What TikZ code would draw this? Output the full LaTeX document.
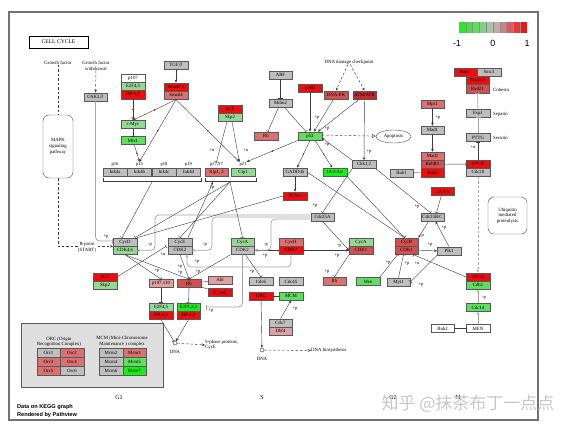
\documentclass[tikz,border=0pt]{standalone}
\usepackage{fontspec}
\setmainfont{Liberation Serif}
\newfontfamily\lsans{Liberation Sans}
\newfontfamily\cjk{Noto Sans CJK SC}
\usetikzlibrary{arrows.meta,shapes.geometric}

\definecolor{rhi}{RGB}{240,12,12}
\definecolor{rdk}{RGB}{200,40,40}
\definecolor{rmid}{RGB}{210,80,80}
\definecolor{rlow}{RGB}{218,112,112}
\definecolor{rpale}{RGB}{222,160,160}
\definecolor{gry}{RGB}{190,190,190}
\definecolor{glow}{RGB}{150,215,150}
\definecolor{gmid}{RGB}{95,222,95}
\definecolor{ghi}{RGB}{25,238,25}
\definecolor{lnk}{RGB}{60,60,60}
\definecolor{cpd}{RGB}{165,165,165}

\tikzset{
  gene/.style={draw=black!65,rectangle,minimum width=23.5pt,minimum height=8.3pt,inner sep=0pt,line width=0.4pt,font=\fontsize{4.8}{5}\selectfont},
  txt/.style={inner sep=0pt,align=center,font=\fontsize{4.8}{5.6}\selectfont},
  lbl/.style={inner sep=0pt,font=\fontsize{4.6}{5}\selectfont},
  act/.style={draw=lnk,line width=0.4pt,-{Stealth[length=3pt,width=2.6pt]}},
  inh/.style={draw=lnk,line width=0.4pt,-{Bar[width=4.5pt]}},
  bnd/.style={draw=lnk,line width=0.4pt},
  dsh/.style={draw=lnk,line width=0.45pt,dash pattern=on 2.5pt off 2pt},
  ind/.style={dsh,-{Stealth[length=3pt,width=2.6pt]}},
  gcp/.style={draw=cpd,line width=0.75pt,rounded corners=4pt},
  edot/.style={circle,fill=lnk,inner sep=0pt,minimum size=1.7pt},
}

\begin{document}
\begin{tikzpicture}[x=1pt,y=-1pt]
\useasboundingbox (0,0) rectangle (566,429);
\draw[black!55,line width=1.1pt] (9,12) rectangle (538,420);

% colour key
\foreach \i/\c in {0/ghi!95!gry,1/ghi!75!gry,2/ghi!55!gry,3/ghi!35!gry,4/ghi!12!gry,5/rhi!12!gry,6/rhi!35!gry,7/rhi!55!gry,8/rhi!75!gry,9/rhi!95!gry}
  \fill[\c] (459+\i*6.8,22) rectangle ++(6.8,11);
\foreach \i in {1,...,9}
  \draw[black!45,line width=0.3pt] (459+\i*6.8,22) -- ++(0,11);
\node[inner sep=0pt,font=\lsans\fontsize{9}{9}\selectfont] (km1)at(457,43) {-1};
\node[inner sep=0pt,font=\lsans\fontsize{9}{9}\selectfont] (k0)at(493,43) {0};
\node[inner sep=0pt,font=\lsans\fontsize{9}{9}\selectfont] (kp1)at(527,43) {1};

\node[draw=black,line width=0.6pt,minimum width=59pt,minimum height=12pt,inner sep=0pt,font=\fontsize{5.6}{6}\selectfont] (title)at(58.5,42) {CELL CYCLE};

% texts and frames
\node[txt] (gf)at(58,63) {Growth factor};
\node[txt] (gfw)at(96,66) {Growth factor\\withdrawal};
\node[txt,draw=black!70,rounded corners=6pt,minimum width=30pt,minimum height=63pt] (mapk)at(58,146.5) {MAPK\\signaling\\pathway};
\node[txt] (dmg)at(349,62) {DNA damage checkpoint};
\node[txt,draw=black!70,ellipse,minimum width=35pt,minimum height=13pt] (apop)at(393.5,136.5) {Apoptosis};
\node[txt,draw=black!70,rounded corners=6pt,minimum width=39pt,minimum height=37pt] (ubq)at(507.5,215.5) {Ubiquitin\\mediated\\proteolysis};
\node[txt,anchor=west] (cohl)at(493,90) {Cohesin};
\node[txt,anchor=west] (sepl)at(493,114) {Separin};
\node[txt,anchor=west] (secl)at(493,138) {Securin};

% G1 entry
\node[gene,fill=gry] (GSK3B)at(95.5,97) {GSK3$\beta$};
\node[gene,fill=white] (p107)at(133,78) {p107};
\node[gene,fill=glow] (E2F45a)at(133,86.3) {E2F4,5};
\node[gene,fill=rhi] (DP12a)at(133,94.6) {DP-1,2};
\node[gene,fill=gry] (TGFb)at(176,65) {TGF$\beta$};
\node[gene,fill=rhi] (Smad23)at(176,87) {Smad2,3};
\node[gene,fill=rlow] (Smad4)at(176,95.3) {Smad4};
\node[gene,fill=glow] (cMyc)at(133,124.5) {c-Myc};
\node[gene,fill=gmid] (Miz1)at(133,140.5) {Miz1};
\node[gene,fill=rhi] (SCFa)at(230,109) {SCF};
\node[gene,fill=glow] (Skp2a)at(230,117.3) {Skp2};

% inhibitors
\node[gene,fill=gry,minimum width=24pt] (Ink4a)at(115,172) {Ink4a};
\node[gene,fill=gry,minimum width=24pt] (Ink4b)at(139.5,172) {Ink4b};
\node[gene,fill=gry,minimum width=24pt] (Ink4c)at(164,172) {Ink4c};
\node[gene,fill=gry,minimum width=24pt] (Ink4d)at(188.5,172) {Ink4d};
\node[gene,fill=rlow] (Kip12)at(216.5,172) {Kip1, 2};
\node[gene,fill=glow] (Cip1)at(243,172) {Cip1};
\node[lbl] (p16l)at(115,164) {p16};
\node[lbl] (p15l)at(139.5,164) {p15};
\node[lbl] (p18l)at(164,164) {p18};
\node[lbl] (p19l)at(188.5,164) {p19};
\node[lbl] (p27l)at(216.5,164) {p27,57};
\node[lbl] (p21l)at(243,164) {p21};
\coordinate (inkb) at (152,182);
\coordinate (kipb) at (230,182);
\coordinate (kipl) at (213,182);

% DNA damage
\node[gene,fill=gry] (ARF)at(280.5,75) {ARF};
\node[gene,fill=gry] (Mdm2)at(280.5,103) {Mdm2};
\node[gene,fill=rlow] (Rba)at(266,136) {Rb};
\node[gene,fill=rhi] (p300)at(310,88) {p300};
\node[gene,fill=rmid] (DNAPK)at(336,95) {DNA-PK};
\node[gene,fill=rdk] (ATMATR)at(364.5,95) {ATM/ATR};
\node[gene,fill=gmid] (p53)at(310,136) {p53};
\node[gene,fill=gry] (Chk12)at(364,164.5) {Chk1,2};
\node[gene,fill=gry] (GADD45)at(295,172) {GADD45};
\node[gene,fill=ghi] (sig1433)at(335,172) {14-3-3$\sigma$};
\node[gene,fill=rhi] (PCNA)at(295,196) {PCNA};
\node[gene,fill=gry] (Cdc25A)at(322.5,217) {Cdc25A};

% spindle checkpoint and cohesin
\node[gene,fill=rlow] (Mps1)at(432.5,104) {Mps1};
\node[gene,fill=gry] (Mad1)at(432.5,130) {Mad1};
\node[gene,fill=rlow] (Mad2)at(432.5,156) {Mad2};
\node[gene,fill=rmid] (BubR1)at(432.5,164.3) {BubR1};
\node[gene,fill=rhi] (Bub3)at(432.5,172.6) {Bub3};
\node[gene,fill=gry] (Bub1)at(401.5,173) {Bub1};
\node[gene,fill=rhi] (Smc1)at(465.5,72) {Smc1};
\node[gene,fill=gry] (Smc3)at(489,72) {Smc3};
\node[gene,fill=rhi] (Stag12)at(477.5,80.3) {Stag1,2};
\node[gene,fill=rmid] (Rad21)at(477.5,88.6) {Rad21};
\node[gene,fill=gry] (Esp1)at(478,113) {Esp1};
\node[gene,fill=gry] (PTTG)at(478,137.5) {PTTG};
\node[gene,fill=rhi] (APCCa)at(478,164) {APC/C};
\node[gene,fill=gry] (Cdc20)at(478,172.3) {Cdc20};
\node[gene,fill=rhi] (s1433)at(442.5,191.5) {14-3-3};
\node[gene,fill=gry] (Cdc25BC)at(432.5,217) {Cdc25B/C};

% cyclin / CDK row
\node[gene,fill=gry] (CycD)at(125,242) {CycD};
\node[gene,fill=glow] (CDK46)at(125,250.3) {CDK4,6};
\node[gene,fill=gry] (CycE)at(180,242) {CycE};
\node[gene,fill=gry] (CDK2e)at(180,250.3) {CDK2};
\node[gene,fill=glow] (CycAa)at(242.5,242) {CycA};
\node[gene,fill=gry] (CDK2a)at(242.5,250.3) {CDK2};
\node[gene,fill=rlow] (CycH)at(291,242) {CycH};
\node[gene,fill=rhi] (CDK7)at(291,250.3) {CDK7};
\node[gene,fill=glow] (CycAb)at(361,242) {CycA};
\node[gene,fill=rmid] (CDK1a)at(361,250.3) {CDK1};
\node[gene,fill=rmid] (CycB)at(406.5,242) {CycB};
\node[gene,fill=rmid] (CDK1b)at(406.5,250.3) {CDK1};
\node[gene,fill=gry] (Plk1)at(449,251) {Plk1};

% lower row
\node[gene,fill=rhi] (SCFb)at(105,277) {SCF};
\node[gene,fill=glow] (Skp2b)at(105,285.3) {Skp2};
\node[gene,fill=rpale] (p107130)at(161,283.5) {p107,130};
\node[gene,fill=rmid] (Rbb)at(189,283.5) {Rb};
\node[gene,fill=rpale] (Abl)at(220,280) {Abl};
\node[gene,fill=rhi] (HDAC)at(220,292.5) {HDAC};
\node[gene,fill=glow] (E2F45b)at(161,307) {E2F4,5};
\node[gene,fill=rhi] (DP12b)at(161,315.3) {DP-1,2};
\node[gene,fill=ghi] (E2F123)at(188.5,307) {E2F1,2,3};
\node[gene,fill=rhi] (DP12c)at(188.5,315.3) {DP-1,2};
\node[gene,fill=gry] (Cdc6)at(261,281.5) {Cdc6};
\node[gene,fill=gry] (Cdc45)at(291,281.5) {Cdc45};
\node[gene,fill=rhi] (ORC)at(261,296) {ORC};
\node[gene,fill=gmid] (MCM)at(291,296) {MCM};
\node[gene,fill=gry] (Cdc7)at(280.5,323) {Cdc7};
\node[gene,fill=rpale] (Dbf4)at(280.5,331.3) {Dbf4};
\node[gene,fill=rlow] (Rbc)at(334.5,281) {Rb};
\node[gene,fill=gmid] (Wee)at(368,281.5) {Wee};
\node[gene,fill=gry] (Myt1)at(398.5,282) {Myt1};
\node[gene,fill=rhi] (APCCb)at(478,277) {APC/C};
\node[gene,fill=gmid] (Cdh1)at(478,285.3) {Cdh1};
\node[gene,fill=gmid] (Cdc14)at(478,307.5) {Cdc14};
\node[gene,fill=white] (MEN)at(478,328.5) {MEN};
\node[gene,fill=white] (Bub2)at(442.5,328.5) {Bub2};
\node[circle,draw=black!80,line width=0.4pt,inner sep=0pt,minimum size=4pt] (DNAa)at(175,343) {};
\node[circle,draw=black!80,line width=0.4pt,inner sep=0pt,minimum size=4pt] (DNAb)at(262,350) {};
\node[txt] (DNAal)at(175,351.5) {DNA};
\node[txt] (DNAbl)at(262,358.5) {DNA};
\node[txt,anchor=west,align=left] (spro)at(205,345) {S-phase proteins,\\CycE};
\node[txt,anchor=west] (dnabio)at(311,350.5) {DNA biosynthesis};

% ORC / MCM key
\node[draw=black!65,fill=gray!25,line width=0.8pt,minimum width=142pt,minimum height=64pt,inner sep=0pt] (okey)at(92,355) {};
\node[txt] (orcl)at(59,342) {ORC (Origin\\Recognition Complex)};
\node[txt] (mcml)at(122,341.5) {MCM (Mini-Chromosome\\Maintenance ) complex};
\node[gene,fill=gry,minimum height=9pt] (Orc1)at(48.5,353) {Orc1};
\node[gene,fill=rlow,minimum height=9pt] (Orc2)at(72,353) {Orc2};
\node[gene,fill=rlow,minimum height=9pt] (Orc3)at(48.5,362) {Orc3};
\node[gene,fill=rlow,minimum height=9pt] (Orc4)at(72,362) {Orc4};
\node[gene,fill=rlow,minimum height=9pt] (Orc5)at(48.5,371) {Orc5};
\node[gene,fill=gry,minimum height=9pt] (Orc6)at(72,371) {Orc6};
\node[gene,fill=gry,minimum height=9pt] (Mcm2)at(111,353) {Mcm2};
\node[gene,fill=rlow,minimum height=9pt] (Mcm3)at(134.5,353) {Mcm3};
\node[gene,fill=gry,minimum height=9pt] (Mcm4)at(111,362) {Mcm4};
\node[gene,fill=gmid,minimum height=9pt] (Mcm5)at(134.5,362) {Mcm5};
\node[gene,fill=gry,minimum height=9pt] (Mcm6)at(111,371) {Mcm6};
\node[gene,fill=ghi,minimum height=9pt] (Mcm7)at(134.5,371) {Mcm7};

% phases and footer
\node[inner sep=0pt,font=\fontsize{6}{6}\selectfont] (G1)at(119,398) {G1};
\node[inner sep=0pt,font=\fontsize{6}{6}\selectfont] (S)at(262,397.5) {S};
\node[inner sep=0pt,font=\fontsize{6}{6}\selectfont] (G2)at(393,398) {G2};
\node[inner sep=0pt,font=\fontsize{6}{6}\selectfont] (M)at(458,398) {M};
\node[anchor=west,inner sep=0pt,align=left,font=\lsans\bfseries\fontsize{5.6}{8}\selectfont] (foot)at(17,411) {Data on KEGG graph\\Rendered by Pathview};

% brackets
\draw[bnd] (103,178) -- (103,181) -- (201,181) -- (201,178);
\draw[bnd] (205,178) -- (205,181) -- (256,181) -- (256,178);

% growth signals
\draw[dsh] (gf) -- (mapk);
\draw[ind] (gfw) -- (GSK3B);
\draw[ind] (mapk) |- (CycD.south west);
\node[txt,fill=white,inner sep=0.5pt] (rpt)at(87,247.5) {R-point\\(START)};
\draw[gcp,-{Bar[width=5pt]}] (GSK3B) |- ([yshift=1]CycD.west);
\node[lbl] (l1)at(106,237) {+p};
\draw[act] (TGFb) -- (Smad23);
\draw[act] (DP12a) -- node[edot] (d1) {} (cMyc);
\draw[act] (Smad4.south) -- node[edot] (d2) {} (cMyc.north);
\draw[inh] (cMyc) -- (Miz1);
\draw[act] (Miz1) -- node[edot] (d3) {} (p15l.north);
\draw[act] (Smad4.south) -- node[edot] (d4) {} (p15l.north);
\draw[act] (Smad4.south) -- node[edot] (d5) {} (p21l.north west);
\draw[inh] ([xshift=-3]Skp2a.south) -- (p27l.north);
\draw[act] ([xshift=2]Skp2a.south) -- (p21l.north west);
\node[lbl] (l2)at(212,150) {+u};
\node[lbl] (l3)at(246,150) {+u};
\draw[act] (p53.south west) -- node[edot] (d6) {} (p21l.north east);

% DNA damage
\draw[inh] (ARF) -- (Mdm2);
\draw[inh] (Mdm2) -- (Rba);
\draw[inh] (Mdm2) -- ([xshift=-4]p53.north);
\draw[act] (p300) -- (p53.north);
\draw[act] (DNAPK) -- ([xshift=4]p53.north);
\draw[act] (ATMATR) -- ([xshift=8]p53.north);
\node[lbl] (l4)at(317,118) {+p};
\node[lbl] (l5)at(327,129) {+p};
\draw[ind] (dmg) -- (DNAPK.north);
\draw[ind] (dmg) -- (ATMATR.north);
\draw[act] (ATMATR) -- (Chk12);
\node[lbl] (l6)at(369,152) {+p};
\draw[act] (Chk12.north west) -- ([yshift=-2]p53.east);
\node[lbl] (l7)at(327,145) {+p};
\draw[dsh,-{Triangle[open,length=4pt,width=4pt]}] ([yshift=1]p53.east) -- (apop);
\draw[act] (p53.south) -- node[edot] (d7) {} (GADD45);
\draw[act] ([xshift=5]p53.south) -- node[edot] (d8) {} (sig1433);
\draw[act] (GADD45) -- (PCNA);
\draw[inh] (Chk12.south west) -- (Cdc25A.north);
\node[lbl] (l8)at(315,206) {+p};
\draw[inh] (Chk12.south east) -- ([xshift=-2]Cdc25BC.north);
\node[lbl] (l9)at(417,207) {+p};
\draw[inh] (s1433) -- ([xshift=4]Cdc25BC.north);
\draw[inh] (GADD45.east) -- ([xshift=-2]CycB.north);
\draw[inh] (sig1433.south east) -- ([xshift=-2]CycB.north);

% spindle checkpoint
\draw[act] (Mps1) -- (Mad1);
\node[lbl] (l10)at(438,118) {+p};
\draw[act] (Mad1) -- (Mad2);
\draw[bnd] (Bub1) -- (Bub3);
\draw[inh] (BubR1) -- (APCCa);
\draw[inh] (APCCa) -- (PTTG);
\node[lbl] (l11)at(473,147) {+u};
\draw[draw=cpd,line width=0.75pt,-{Bar[width=5pt]}] (PTTG) -- (Esp1);
\draw[draw=cpd,line width=0.75pt,-{Bar[width=5pt]}] (Esp1) -- (Rad21);
\draw[ind,draw=cpd,line width=0.75pt] (Cdc20) -- (APCCb);
\draw[draw=cpd,line width=0.75pt,-{Stealth[length=3pt,width=2.6pt]}] (Cdc14) -- (Cdh1);
\node[lbl] (l12)at(484,298) {-p};
\draw[draw=cpd,line width=0.75pt,-{Stealth[length=3pt,width=2.6pt]}] (MEN) -- (Cdc14);
\draw[inh] (Bub2) -- (MEN);

% G2/M
\draw[inh] (APCCb.west) -- ([xshift=7]CDK1b.south);
\node[lbl] (l13)at(417,263) {+u};
\draw[act] (CDK1b) -- (Plk1);
\node[lbl] (l14)at(430,245) {+p};
\draw[act] (Plk1.north) -- ([xshift=3]Cdc25BC.south);
\node[lbl] (l15)at(444,228) {+p};
\draw[act] ([xshift=-4]Cdc25BC.south) -- (CycB.north east);
\node[lbl] (l16)at(422,236) {-p};
\draw[inh] (Plk1.south west) -- (Myt1.east);
\node[lbl] (l17)at(421,285) {+p};
\draw[inh] (Myt1.north) -- ([xshift=-3]CDK1b.south);
\node[lbl] (l18)at(407,264) {+p};
\draw[inh] (Wee.north east) -- ([xshift=-9]CDK1b.south);
\node[lbl] (l19)at(388,263) {+p};
\draw[inh] (CDK1a.south west) -- (Rbc.north);
\node[lbl] (l20)at(327,272) {+p};

% CDK activation
\draw[act] (CDK7) -- (CDK2a);
\node[lbl] (l21)at(265,256) {+p};
\draw[act] (CDK7) -- (CDK1a);
\node[lbl] (l22)at(337,256) {+p};
\draw[act] (Cdc25A.south) -- (CDK1a.west);
\node[lbl] (l23)at(339,246) {-p};
\draw[gcp,-{Stealth[length=3pt,width=2.6pt]}] ([yshift=2]Cdc25A.west) -- (155,215) -- (155,250.3) -- (CDK46.east);
\node[lbl] (l24)at(150,245) {-p};
\draw[gcp,-{Stealth[length=3pt,width=2.6pt]}] (Cdc25A.west) -- (212,217) -- (212,250.3) -- (CDK2e.east);
\node[lbl] (l25)at(205,245) {-p};
\draw[gcp,-{Stealth[length=3pt,width=2.6pt]}] ([yshift=-2]Cdc25A.west) -- (271,219) -- (271,250.3) -- (CDK2a.east);
\node[lbl] (l26)at(266,245) {-p};
\draw[gcp,-{Stealth[length=3pt,width=2.6pt]}] (CDK7.south) -- (291,267) -| ([xshift=7]CDK2e.south);
\node[lbl] (l27)at(197,262) {+p};

% inhibitors on cyclins
\draw[inh] (inkb) -- ([xshift=-3]CycD.north);
\draw[inh] (kipb) -- ([xshift=10]CycD.north);
\draw[inh] (kipb) -- (CycE.north);
\draw[inh] (kipb) -- (CycAa.north);
\draw[bnd] (PCNA.west) -- (CycD.north east);
\draw[act] ([xshift=8]CycE.north) -- (kipl);
\node[lbl] (l28)at(212,188) {+p};
\draw[inh] (SCFb.east) -- ([xshift=-2]CycE.south west);
\node[lbl] (l29)at(163,254) {+u};

% Rb / E2F
\draw[inh] (CDK46.south) -- (p107130.north);
\draw[inh] (CDK46.south) -- (Rbb.north);
\draw[inh] (CDK2e.south) -- (Rbb.north);
\draw[inh] (CDK2a.south west) -- (Rbb.north);
\node[lbl] (l30)at(157,271) {+p};
\node[lbl] (l31)at(180,267) {+p};
\node[lbl] (l32)at(180,273) {+p};
\node[lbl] (l33)at(198,272) {+p};
\draw[bnd] (Rbb) -- (Abl);
\draw[bnd] (Rbb) -- (HDAC);
\draw[inh] (p107130) -- (E2F45b);
\draw[inh] (Rbb) -- (E2F123);
\draw[gcp,-{Bar[width=5pt]}] (CDK2a.south) |- ([xshift=6]E2F123.east);
\node[lbl] (l34)at(211,311) {+p};
\draw[inh] ([xshift=3]CDK2a.south) -- (Cdc6.north);
\node[lbl] (l35)at(252,272) {+p};
\draw[inh] (DP12b.south) -- (DNAa);
\draw[act] (DP12c.south) -- (DNAa);
\draw[ind] (DNAa) -- (spro.west);

% replication
\draw[bnd] (ORC) -- (MCM);
\draw[act] (Cdc7.north) -- (MCM.south);
\node[lbl] (l36)at(295,309) {+p};
\draw[act] (ORC) -- (DNAb);
\draw[ind] (DNAb) -- (dnabio.west);

% overlay
\node[inner sep=0pt,text=black!22,font=\cjk\fontsize{17}{17}\selectfont] (wm)at(468,404) {知乎 @抹茶布丁一点点};
\end{tikzpicture}
\end{document}
